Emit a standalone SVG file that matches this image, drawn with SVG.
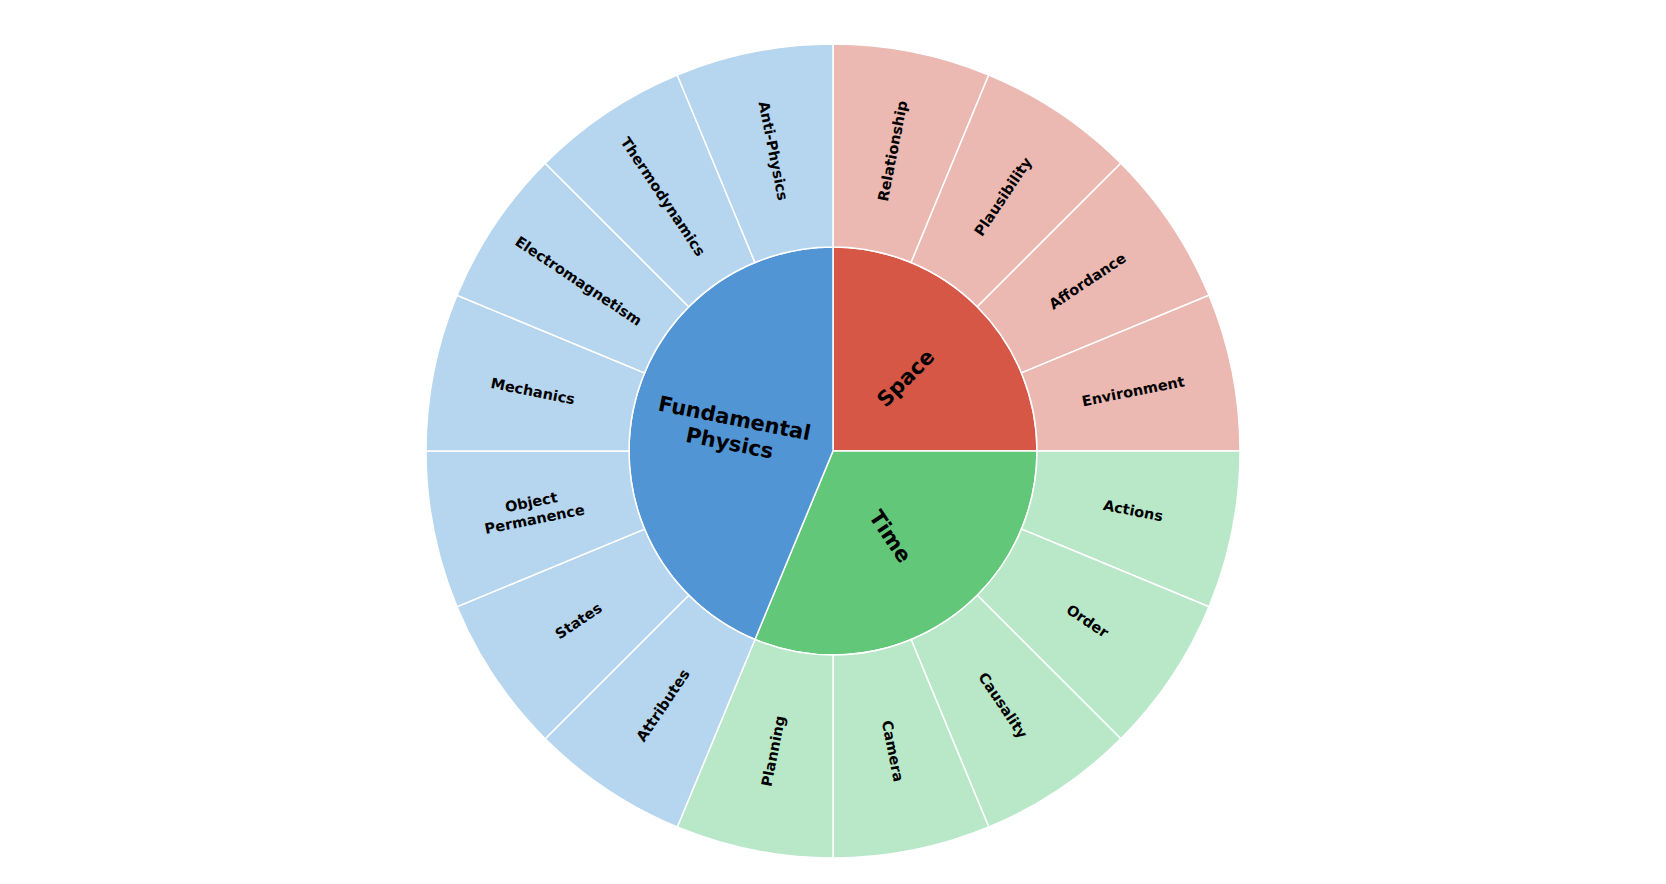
<svg xmlns="http://www.w3.org/2000/svg" width="1666" height="884" viewBox="0 0 1666 884">
<style>
.s{stroke:#fff;stroke-width:1.5}
.pb{fill:#5295d4}.lb{fill:#b6d5ee}.pr{fill:#d65746}.lr{fill:#ebb8b2}.pg{fill:#63c779}.lg{fill:#b9e8c9}
text{font-family:"DejaVu Sans",sans-serif;font-weight:bold;fill:#000;text-anchor:middle;dominant-baseline:central}
.o{font-size:14.5px}.i{font-size:21px}
</style>
<rect width="1666" height="884" fill="#fff"/>
<g id="space"><path class="s pr" d="M833,451 L833,247 A204,204 0 0 1 1037,451 Z"/><text class="i" transform="translate(905.8,378.2) rotate(-45)">Space</text></g>
<g id="time"><path class="s pg" d="M833,451 L1037,451 A204,204 0 0 1 754.93,639.47 Z"/><text class="i" transform="translate(890.2,536.6) rotate(56.25)">Time</text></g>
<g id="physics"><path class="s pb" d="M833,451 L754.93,639.47 A204,204 0 0 1 833,247 Z"/><text class="i" transform="translate(732,430.9) rotate(11.25)"><tspan x="0" dy="-0.6em">Fundamental</tspan><tspan x="0" dy="1.2em">Physics</tspan></text></g>
<g id="relationship"><path class="s lr" d="M833,44 A407,407 0 0 1 988.75,74.98 L911.07,262.53 A204,204 0 0 0 833,247 Z"/><text class="o" transform="translate(892.7,150.9) rotate(-78.75)">Relationship</text></g>
<g id="plausibility"><path class="s lr" d="M988.75,74.98 A407,407 0 0 1 1120.79,163.21 L977.25,306.75 A204,204 0 0 0 911.07,262.53 Z"/><text class="o" transform="translate(1003,196.6) rotate(-56.25)">Plausibility</text></g>
<g id="affordance"><path class="s lr" d="M1120.79,163.21 A407,407 0 0 1 1209.02,295.25 L1021.47,372.93 A204,204 0 0 0 977.25,306.75 Z"/><text class="o" transform="translate(1087.4,281) rotate(-33.75)">Affordance</text></g>
<g id="environment"><path class="s lr" d="M1209.02,295.25 A407,407 0 0 1 1240,451 L1037,451 A204,204 0 0 0 1021.47,372.93 Z"/><text class="o" transform="translate(1133.1,391.3) rotate(-11.25)">Environment</text></g>
<g id="actions"><path class="s lg" d="M1240,451 A407,407 0 0 1 1209.02,606.75 L1021.47,529.07 A204,204 0 0 0 1037,451 Z"/><text class="o" transform="translate(1133.1,510.7) rotate(11.25)">Actions</text></g>
<g id="order"><path class="s lg" d="M1209.02,606.75 A407,407 0 0 1 1120.79,738.79 L977.25,595.25 A204,204 0 0 0 1021.47,529.07 Z"/><text class="o" transform="translate(1087.4,621) rotate(33.75)">Order</text></g>
<g id="causality"><path class="s lg" d="M1120.79,738.79 A407,407 0 0 1 988.75,827.02 L911.07,639.47 A204,204 0 0 0 977.25,595.25 Z"/><text class="o" transform="translate(1003,705.4) rotate(56.25)">Causality</text></g>
<g id="camera"><path class="s lg" d="M988.75,827.02 A407,407 0 0 1 833,858 L833,655 A204,204 0 0 0 911.07,639.47 Z"/><text class="o" transform="translate(892.7,751.1) rotate(78.75)">Camera</text></g>
<g id="planning"><path class="s lg" d="M833,858 A407,407 0 0 1 677.25,827.02 L754.93,639.47 A204,204 0 0 0 833,655 Z"/><text class="o" transform="translate(773.3,751.1) rotate(-78.75)">Planning</text></g>
<g id="attributes"><path class="s lb" d="M677.25,827.02 A407,407 0 0 1 545.21,738.79 L688.75,595.25 A204,204 0 0 0 754.93,639.47 Z"/><text class="o" transform="translate(663,705.4) rotate(-56.25)">Attributes</text></g>
<g id="states"><path class="s lb" d="M545.21,738.79 A407,407 0 0 1 456.98,606.75 L644.53,529.07 A204,204 0 0 0 688.75,595.25 Z"/><text class="o" transform="translate(578.6,621) rotate(-33.75)">States</text></g>
<g id="objectpermanence"><path class="s lb" d="M456.98,606.75 A407,407 0 0 1 426,451 L629,451 A204,204 0 0 0 644.53,529.07 Z"/><text class="o" transform="translate(532.9,510.7) rotate(-11.25)"><tspan x="0" dy="-0.6em">Object</tspan><tspan x="0" dy="1.2em">Permanence</tspan></text></g>
<g id="mechanics"><path class="s lb" d="M426,451 A407,407 0 0 1 456.98,295.25 L644.53,372.93 A204,204 0 0 0 629,451 Z"/><text class="o" transform="translate(532.9,391.3) rotate(11.25)">Mechanics</text></g>
<g id="electromagnetism"><path class="s lb" d="M456.98,295.25 A407,407 0 0 1 545.21,163.21 L688.75,306.75 A204,204 0 0 0 644.53,372.93 Z"/><text class="o" transform="translate(578.6,281) rotate(33.75)">Electromagnetism</text></g>
<g id="thermodynamics"><path class="s lb" d="M545.21,163.21 A407,407 0 0 1 677.25,74.98 L754.93,262.53 A204,204 0 0 0 688.75,306.75 Z"/><text class="o" transform="translate(663,196.6) rotate(56.25)">Thermodynamics</text></g>
<g id="antiphysics"><path class="s lb" d="M677.25,74.98 A407,407 0 0 1 833,44 L833,247 A204,204 0 0 0 754.93,262.53 Z"/><text class="o" transform="translate(773.3,150.9) rotate(78.75)">Anti-Physics</text></g>
<g id="connectors"/>
</svg>
